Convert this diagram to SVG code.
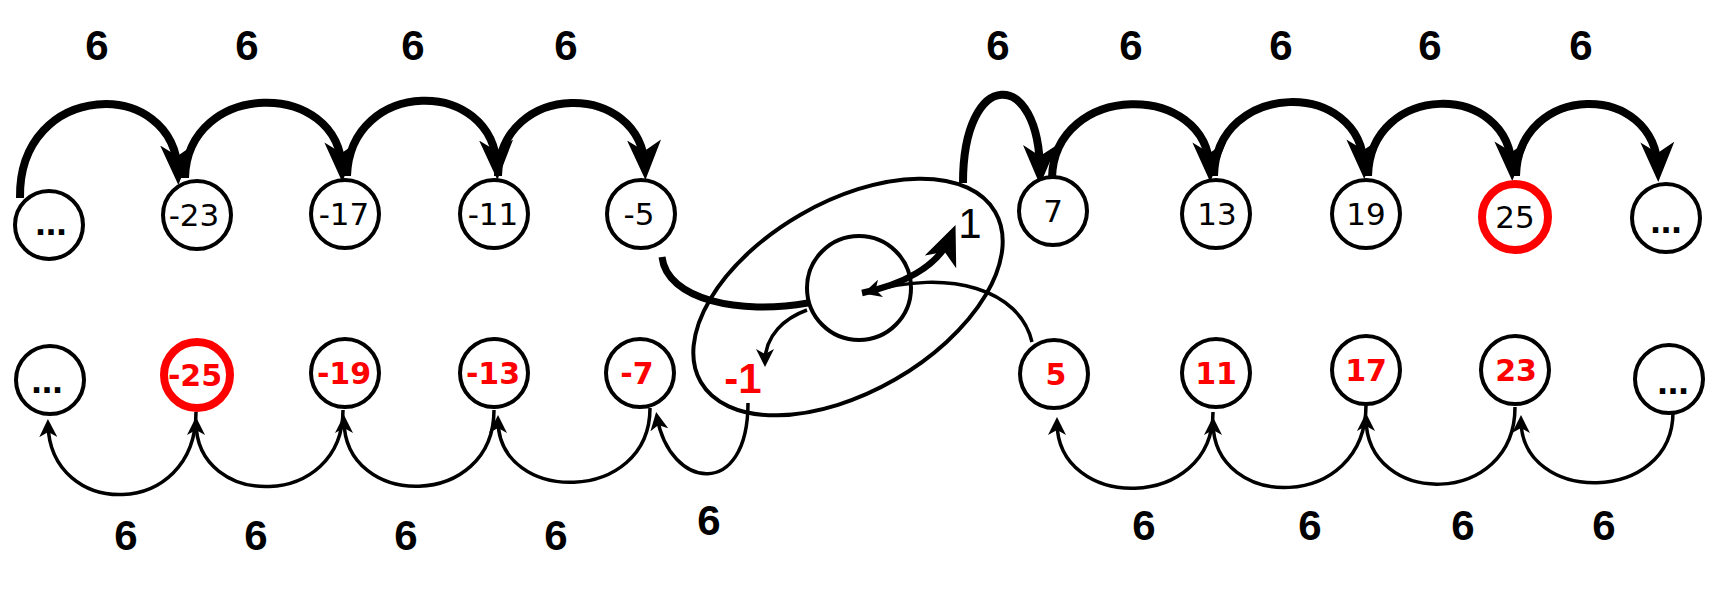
<svg xmlns="http://www.w3.org/2000/svg" width="1720" height="590" viewBox="0 0 1720 590">
<style>
.node{fill:#fff;stroke:#000;stroke-width:4}
.hot{fill:#fff;stroke:#f00;stroke-width:8}
.lbl{font-family:"DejaVu Sans",sans-serif;font-size:31px;text-anchor:middle;fill:#000}
.rlbl{font-family:"DejaVu Sans",sans-serif;font-size:30px;font-weight:bold;text-anchor:middle;fill:#f00}
.dots{font-family:"Liberation Sans",sans-serif;font-size:38px;font-weight:bold;text-anchor:middle;fill:#000}
.six{font-family:"Liberation Sans",sans-serif;font-size:42px;font-weight:bold;text-anchor:middle;fill:#000}
.thick{fill:none;stroke:#000;stroke-width:8;marker-end:url(#big)}
.thin{fill:none;stroke:#000;stroke-width:3.5;marker-end:url(#small)}
</style>
<defs>
<marker id="big" markerUnits="userSpaceOnUse" markerWidth="40" markerHeight="34" viewBox="0 0 40 34" refX="28" refY="17" orient="auto"><path d="M0,0 L40,17 L0,34 L11,17 Z" fill="#000"/></marker>
<marker id="small" markerUnits="userSpaceOnUse" markerWidth="18" markerHeight="18" viewBox="0 0 18 18" refX="13" refY="9" orient="auto"><path d="M0,0 L18,9 L0,18 L5,9 Z" fill="#000"/></marker>
</defs>
<rect width="1720" height="590" fill="#fff"/>

<g id="connectors">
<path class="thick" d="M20,198 C18,80 175,75 178,173"/>
<path class="thick" d="M185,178 C187,80 340,78 342,170"/>
<path class="thick" d="M347,176 C350,78 494,76 497,168"/>
<path class="thick" d="M498,176 C500,80 642,80 645,168"/>
<path class="thick" d="M963,183 C963,67 1040,67 1040,173"/>
<path class="thick" d="M1052,178 C1054,82 1208,80 1210,170"/>
<path class="thick" d="M1214,176 C1216,80 1362,78 1364,167"/>
<path class="thick" d="M1368,176 C1370,82 1510,80 1512,169"/>
<path class="thick" d="M1516,176 C1518,82 1656,80 1658,170"/>
<path fill="none" stroke="#000" stroke-width="7" d="M662,257 C667,300 740,315 808,303"/>
<path class="thin" d="M1032,342 C1020,290 950,268 868,292"/>
<path fill="none" stroke="#000" stroke-width="6.5" marker-end="url(#big)" d="M862,293 C900,285 938,268 951,236"/>
<path class="thin" d="M807,310 C785,318 765,335 765,362"/>
<path class="thin" d="M748,403 C748,500 670,490 657,417"/>
<path class="thin" d="M196,412 C196,520 50,520 48,424"/>
<path class="thin" d="M343,410 C343,510 196,510 196,422"/>
<path class="thin" d="M494,410 C494,510 344,510 344,420"/>
<path class="thin" d="M650,408 C650,505 498,505 498,420"/>
<path class="thin" d="M1673,412 C1673,505 1521,505 1521,420"/>
<path class="thin" d="M1515,407 C1515,508 1366,508 1366,418"/>
<path class="thin" d="M1366,405 C1366,512 1213,512 1213,422"/>
<path class="thin" d="M1213,412 C1213,512 1057,512 1057,422"/>
</g>

<g id="labels">
<text class="six" x="97" y="60">6</text>
<text class="six" x="247" y="60">6</text>
<text class="six" x="413" y="60">6</text>
<text class="six" x="566" y="60">6</text>
<text class="six" x="998" y="60">6</text>
<text class="six" x="1131" y="60">6</text>
<text class="six" x="1281" y="60">6</text>
<text class="six" x="1430" y="60">6</text>
<text class="six" x="1581" y="60">6</text>
<text class="six" x="126" y="550">6</text>
<text class="six" x="256" y="550">6</text>
<text class="six" x="406" y="550">6</text>
<text class="six" x="556" y="550">6</text>
<text class="six" x="709" y="535">6</text>
<text class="six" x="1144" y="540">6</text>
<text class="six" x="1310" y="540">6</text>
<text class="six" x="1463" y="540">6</text>
<text class="six" x="1604" y="540">6</text>
</g>

<g id="center">
<ellipse cx="848" cy="297" rx="170" ry="95" transform="rotate(-30 848 297)" fill="none" stroke="#000" stroke-width="4"/>
<circle cx="859" cy="288" r="52" fill="none" stroke="#000" stroke-width="4"/>
<text x="970" y="238" font-family="Liberation Sans, sans-serif" font-size="42" text-anchor="middle" fill="#000">1</text>
<text x="743" y="393" font-family="Liberation Sans, sans-serif" font-size="42" font-weight="bold" text-anchor="middle" fill="#f00">-1</text>
</g>

<g id="n-dots-tl"><circle class="node" cx="49" cy="225" r="34"/><text class="dots" x="51" y="235">...</text></g>
<g id="n-m23"><circle class="node" cx="197" cy="215" r="34"/><text class="lbl" x="194" y="226">-23</text></g>
<g id="n-m17"><circle class="node" cx="345" cy="214" r="34"/><text class="lbl" x="344" y="225">-17</text></g>
<g id="n-m11"><circle class="node" cx="494" cy="214" r="34"/><text class="lbl" x="493" y="225">-11</text></g>
<g id="n-m5"><circle class="node" cx="641" cy="214" r="34"/><text class="lbl" x="639" y="225">-5</text></g>
<g id="n-7"><circle class="node" cx="1053" cy="211" r="34"/><text class="lbl" x="1053" y="222">7</text></g>
<g id="n-13"><circle class="node" cx="1216" cy="214" r="34"/><text class="lbl" x="1217" y="225">13</text></g>
<g id="n-19"><circle class="node" cx="1366" cy="214" r="34"/><text class="lbl" x="1366" y="225">19</text></g>
<g id="n-25"><circle class="hot" cx="1515" cy="217" r="33"/><text class="lbl" x="1515" y="228">25</text></g>
<g id="n-dots-tr"><circle class="node" cx="1666" cy="218" r="34"/><text class="dots" x="1666" y="233">...</text></g>

<g id="n-dots-bl"><circle class="node" cx="50" cy="380" r="34"/><text class="dots" x="47" y="393">...</text></g>
<g id="n-m25"><circle class="hot" cx="197" cy="375" r="33"/><text class="rlbl" x="195" y="386">-25</text></g>
<g id="n-m19"><circle class="node" cx="345" cy="373" r="34"/><text class="rlbl" x="344" y="384">-19</text></g>
<g id="n-m13"><circle class="node" cx="494" cy="373" r="34"/><text class="rlbl" x="493" y="384">-13</text></g>
<g id="n-m7"><circle class="node" cx="640" cy="373" r="34"/><text class="rlbl" x="637" y="384">-7</text></g>
<g id="n-5"><circle class="node" cx="1054" cy="374" r="34"/><text class="rlbl" x="1056" y="385">5</text></g>
<g id="n-11"><circle class="node" cx="1216" cy="373" r="34"/><text class="rlbl" x="1216" y="384">11</text></g>
<g id="n-17"><circle class="node" cx="1366" cy="370" r="34"/><text class="rlbl" x="1366" y="381">17</text></g>
<g id="n-23"><circle class="node" cx="1515" cy="370" r="34"/><text class="rlbl" x="1516" y="381">23</text></g>
<g id="n-dots-br"><circle class="node" cx="1669" cy="379" r="34"/><text class="dots" x="1673" y="394">...</text></g>
</svg>
